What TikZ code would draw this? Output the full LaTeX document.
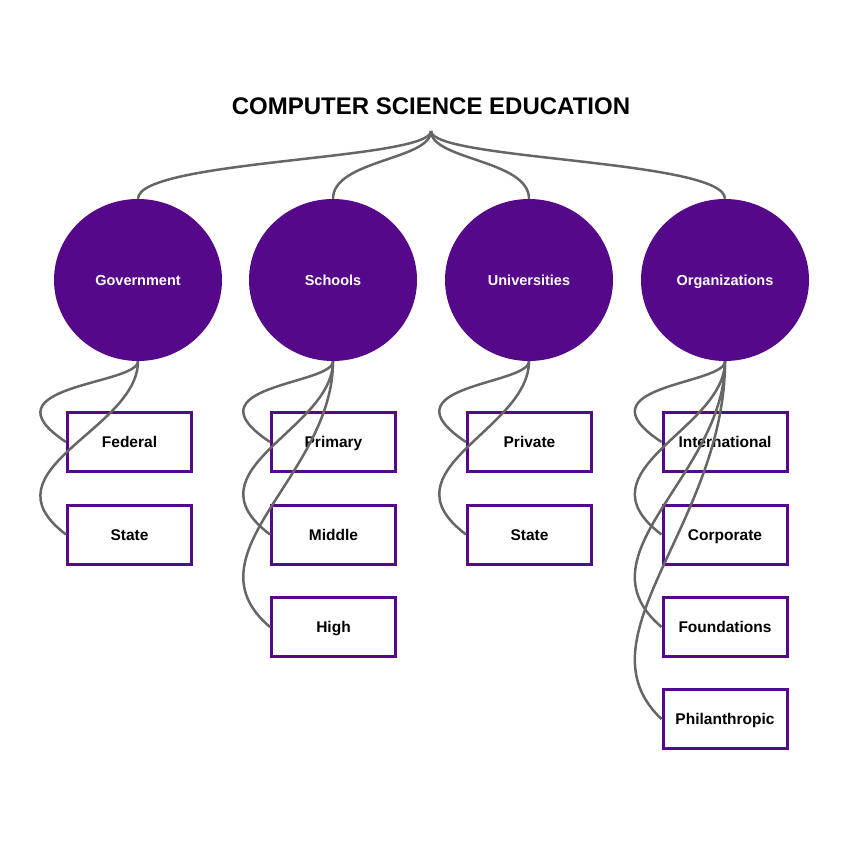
\documentclass[tikz,border=0pt]{standalone}
\usepackage{fontspec}
\setmainfont{Liberation Sans}
\usetikzlibrary{shapes.geometric,calc}
\definecolor{cspurple}{RGB}{86,8,138}
\definecolor{edgegray}{RGB}{102,102,102}
\newcommand\leafedge[4]{\draw[link] (#1.south) .. controls ($(#1.south)+(0,#3)$) and ($(#2.west)+(-86,-#4)$) .. (#2.west);}
\newcommand\topedge[1]{\draw[link] (apex) .. controls ($(apex)+(0,29)$) and ($(#1.north)+(0,-39)$) .. (#1.north);}
\begin{document}
\begin{tikzpicture}[x=1pt,y=-1pt,
 catnode/.style={ellipse,fill=cspurple,minimum width=168pt,minimum height=162pt,inner sep=0pt,text=white,font=\bfseries\fontsize{14.5}{17}\selectfont,text height=10.4pt,text depth=0pt},
 leafbox/.style={rectangle,draw=cspurple,line width=3pt,fill=white,minimum width=124pt,minimum height=59pt,inner sep=0pt,font=\bfseries\fontsize{15.5}{18}\selectfont,text height=11.1pt,text depth=0pt},
 link/.style={draw=edgegray,line width=2.5pt}]
\useasboundingbox (0,0) rectangle (850,850);
\node[font=\bfseries\fontsize{24}{28}\selectfont,text height=17pt,text depth=0pt] (title) at (431,106) {COMPUTER SCIENCE EDUCATION};
\coordinate (apex) at (431,131);
\node[catnode] (gov) at (138,280) {Government};
\node[catnode] (sch) at (333,280) {Schools};
\node[catnode] (uni) at (529,280) {Universities};
\node[catnode] (org) at (725,280) {Organizations};
\node[leafbox] (fed) at (129.5,442) {Federal};
\node[leafbox] (gstate) at (129.5,534.5) {State};
\node[leafbox] (pri) at (333.5,442) {Primary};
\node[leafbox] (mid) at (333.5,534.5) {Middle};
\node[leafbox] (high) at (333.5,627) {High};
\node[leafbox] (priv) at (529.5,442) {Private};
\node[leafbox] (ustate) at (529.5,534.5) {State};
\node[leafbox] (intl) at (725,442) {International};
\node[leafbox] (corp) at (725,534.5) {Corporate};
\node[leafbox] (found) at (725,627) {Foundations};
\node[leafbox] (phil) at (725,719) {Philanthropic};
\topedge{gov}
\topedge{sch}
\topedge{uni}
\topedge{org}
\leafedge{gov}{fed}{24}{57}
\leafedge{gov}{gstate}{69}{65}
\leafedge{sch}{pri}{24}{57}
\leafedge{sch}{mid}{69}{65}
\leafedge{sch}{high}{115}{73}
\leafedge{uni}{priv}{24}{57}
\leafedge{uni}{ustate}{69}{65}
\leafedge{org}{intl}{24}{57}
\leafedge{org}{corp}{69}{65}
\leafedge{org}{found}{115}{73}
\leafedge{org}{phil}{163}{81}
\end{tikzpicture}
\end{document}
